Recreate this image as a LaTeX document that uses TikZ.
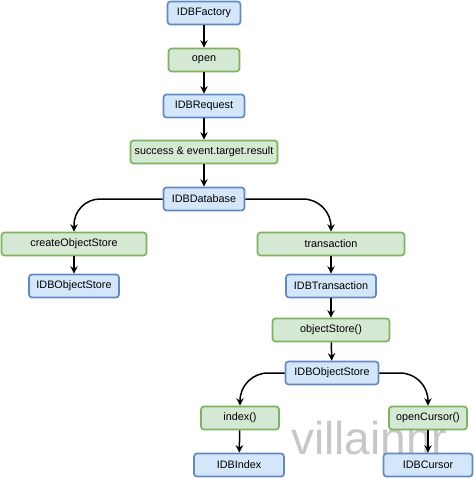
\documentclass[tikz,border=0pt]{standalone}
\usepackage{fontspec}
\setmainfont{Liberation Sans}
\usetikzlibrary{arrows.meta}
\definecolor{bluFill}{HTML}{D4E6FA}
\definecolor{bluBordo}{HTML}{628AC0}
\definecolor{verdeFill}{HTML}{D5E8D4}
\definecolor{verdeBordo}{HTML}{7DB25E}
\tikzset{
    blocco/.style = {draw, line width = 1.7pt, rounded corners = 3pt, minimum height = 23pt, inner sep = 0pt, font = \fontsize{10.8}{12}\selectfont},
    bloccoBlu/.style = {blocco, draw = bluBordo, fill = bluFill},
    bloccoVerde/.style = {blocco, draw = verdeBordo, fill = verdeFill},
    freccia/.style = {line width = 1.5pt, -{Stealth[length = 7.5pt, width = 7.5pt]}}
}

\begin{document}
\begin{tikzpicture}[x = 1pt, y = -1pt]
    % Cornice
    \useasboundingbox (0,0) rectangle (474,478);
    % Filigrana
    \node[text = black!22, font = \fontsize{46}{50}\selectfont, anchor = base west, inner sep = 0pt] (filigrana) at (291,454) {villainhr};
    % Colonna centrale
    \node[bloccoBlu, minimum width = 73pt] (factory) at (204,13) {IDBFactory};
    \node[bloccoVerde, minimum width = 71pt] (open) at (204,60) {open};
    \node[bloccoBlu, minimum width = 81pt] (request) at (204,106) {IDBRequest};
    \node[bloccoVerde, minimum width = 147pt] (success) at (204,152) {success \& event.target.result};
    \node[bloccoBlu, minimum width = 81pt] (database) at (204,199) {IDBDatabase};
    % Ramo sinistro
    \node[bloccoVerde, minimum width = 145pt] (createStore) at (74,244) {createObjectStore};
    \node[bloccoBlu, minimum width = 90pt] (storeSx) at (74,286) {IDBObjectStore};
    % Ramo destro
    \node[bloccoVerde, minimum width = 147pt] (transaction) at (331,244) {transaction};
    \node[bloccoBlu, minimum width = 90pt] (idbTransaction) at (331,286) {IDBTransaction};
    \node[bloccoVerde, minimum width = 117pt] (objectStore) at (331,330) {objectStore()};
    \node[bloccoBlu, minimum width = 93pt] (storeDx) at (332,373) {IDBObjectStore};
    \node[bloccoVerde, minimum width = 78pt] (index) at (240,418) {index()};
    \node[bloccoVerde, minimum width = 78pt] (openCursor) at (428,418) {openCursor()};
    \node[bloccoBlu, minimum width = 90pt] (idbIndex) at (239,465) {IDBIndex};
    \node[bloccoBlu, minimum width = 89pt] (idbCursor) at (428,465) {IDBCursor};
    % Frecce dritte
    \draw[freccia] (factory) -- (open);
    \draw[freccia] (open) -- (request);
    \draw[freccia] (request) -- (success);
    \draw[freccia] (success) -- (database);
    \draw[freccia] (createStore) -- (storeSx);
    \draw[freccia] (transaction) -- (idbTransaction);
    \draw[freccia] (idbTransaction) -- (objectStore);
    \draw[freccia] (objectStore) -- (storeDx);
    \draw[freccia] (index) -- (idbIndex);
    \draw[freccia] (openCursor) -- (idbCursor);
    % Frecce curve
    \draw[freccia, rounded corners = 26pt] (database.west) -| (createStore.north);
    \draw[freccia, rounded corners = 28pt] (database.east) -| (transaction.north);
    \draw[freccia, rounded corners = 28pt] (storeDx.west) -| (index.north);
    \draw[freccia, rounded corners = 28pt] (storeDx.east) -| (openCursor.north);
\end{tikzpicture}
\end{document}
